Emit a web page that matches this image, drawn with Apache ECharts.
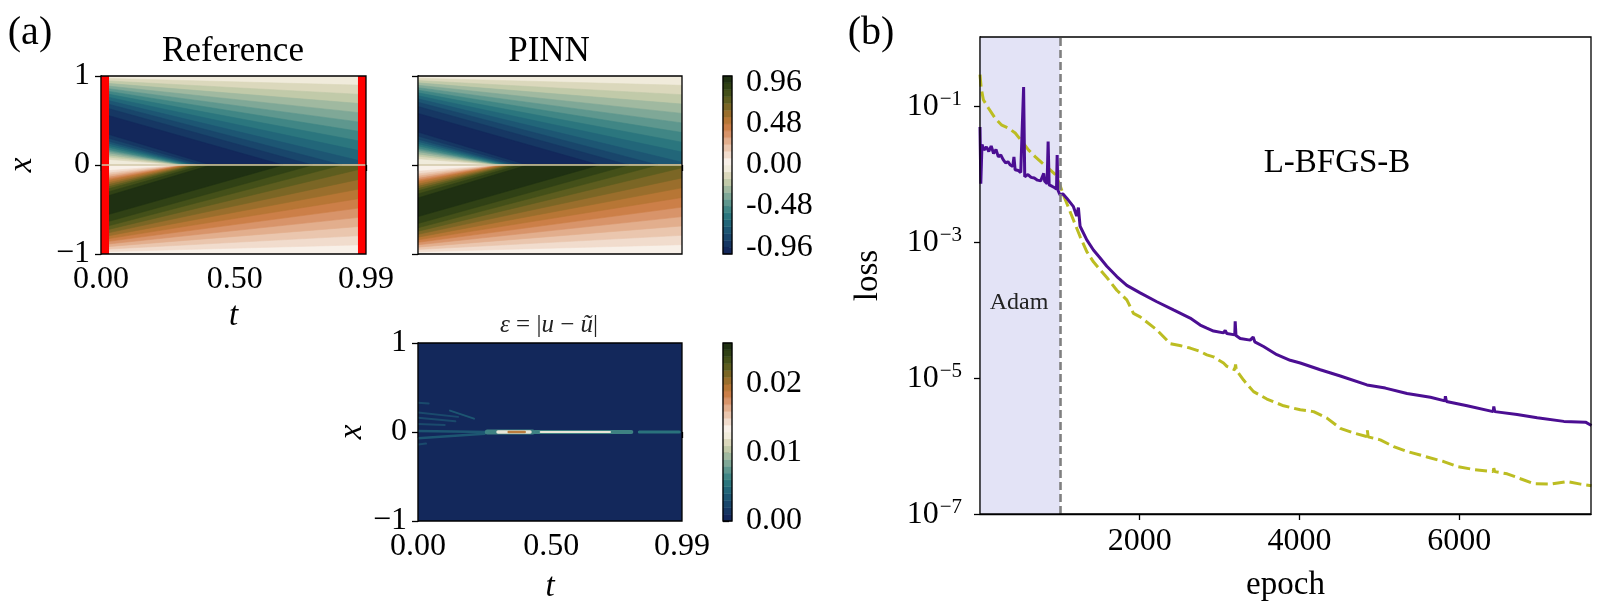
<!DOCTYPE html>
<html><head><meta charset="utf-8">
<script src="https://cdn.jsdelivr.net/npm/echarts@6/dist/echarts.min.js"></script>
<style>html,body{margin:0;padding:0;background:#fff}#c{width:1600px;height:612px}</style>
</head><body><div id="c"></div>
<script>
// ---------------- panel (a): contour-band boundaries ----------------
// upper half (u < 0); the lower half is the mirror image (u > 0)
const levels      = [0.08, 0.16, 0.24, 0.32, 0.40, 0.48, 0.56, 0.64, 0.72, 0.80, 0.88, 0.96];
const innerStartX = [0.07, 0.10, 0.125, 0.15, 0.17, 0.19, 0.215, 0.24, 0.265, 0.29, 0.325, 0.37];
const innerEndT   = [0.30, 0.30, 0.31, 0.31, 0.32, 0.32, 0.33, 0.34, 0.35, 0.36, 0.38, 0.41];
const outerStartX = [0.975, 0.949, 0.923, 0.896, 0.869, 0.841, 0.811, 0.779, 0.744, 0.705, 0.657, 0.58];
const outerEndT   = [0.99, 0.99, 0.99, 0.99, 0.99, 0.99, 0.99, 0.99, 0.99, 0.90, 0.79, 0.68];
const outerEndX   = [0.895, 0.79, 0.685, 0.58, 0.473, 0.365, 0.256, 0.145, 0.031, 0, 0, 0];
const bandEdges   = [-1.04,-0.96,-0.88,-0.80,-0.72,-0.64,-0.56,-0.48,-0.40,-0.32,-0.24,-0.16,-0.08,0,
                     0.08,0.16,0.24,0.32,0.40,0.48,0.56,0.64,0.72,0.80,0.88,0.96,1.04];
const bandColors  = ['#13285b','#163763','#19466b','#1d5673','#226679','#2b767e','#408685','#5e978e',
                     '#7fa897','#a0b9a0','#c1caa9','#dbd8bc','#f0ebdb','#f8f0e8','#f1dccd','#eac6ae',
                     '#e2ae8d','#d8946a','#cc7f48','#b77635','#9a6e2c','#7b6625','#5d5d1f','#445019',
                     '#304115','#1f3012'];
const trainSlices = [[0, 0.03], [0.96, 0.99]];
const tTicks  = [0, 0.5, 0.99];
const xTicks  = [-1, 0, 1];
const cbTicks = [-0.96, -0.48, 0, 0.48, 0.96];
// error field: edges of the colour bands and streaks [t0, x0, t1, x1, value]
const errEdges = [0,0.001,0.002,0.003,0.004,0.005,0.006,0.007,0.008,0.009,0.010,0.011,0.012,0.013,
                  0.014,0.015,0.016,0.017,0.018,0.019,0.020,0.021,0.022,0.023,0.024,0.025,0.026];
const errTicks = [0, 0.01, 0.02];
const errStreaks = [
  [0.00, 0.33, 0.04, 0.32, 0.003],
  [0.00, 0.22, 0.15, 0.17, 0.003],
  [0.12, 0.24, 0.21, 0.15, 0.004],
  [0.00, 0.16, 0.14, 0.12, 0.003],
  [0.00, 0.09, 0.10, 0.08, 0.003],
  [0.00, 0.01, 0.26, 0.00, 0.004],
  [0.00, -0.07, 0.25, -0.02, 0.004],
  [0.00, -0.14, 0.03, -0.13, 0.003],
  [0.26, 0.00, 0.43, 0.00, 0.006],
  [0.30, 0.00, 0.42, 0.00, 0.012],
  [0.34, 0.00, 0.40, 0.00, 0.019],
  [0.44, 0.00, 0.80, 0.00, 0.006],
  [0.46, 0.00, 0.72, 0.00, 0.012],
  [0.83, 0.00, 0.98, 0.00, 0.005]
];
// ---------------- panel (b): loss curves ----------------
const epochsSolid = [0,10,25,50,80,110,140,170,200,230,260,290,320,350,380,410,425,440,480,510,
  530,546,560,600,640,680,720,760,798,810,840,853,866,900,930,958,966,975,1002,1037,
  1086,1170,1210,1232,1253,1337,1420,1504,1588,1713,1838,2005,2214,2422,2631,2757,2840,2924,3049,3070,
  3090,3190,3195,3205,3258,3383,3420,3440,3550,3717,3884,4010,4260,4511,4845,5075,5347,5639,5820,5827,
  5840,6099,6425,6433,6445,6725,6976,7310,7581,7656];
const lossSolid = [4.9e-2,7.2e-3,2.7e-2,2.24e-2,2.5e-2,2.14e-2,2.57e-2,2.0e-2,2.29e-2,1.78e-2,
  1.9e-2,1.62e-2,1.45e-2,1.51e-2,1.35e-2,1.29e-2,1.78e-2,1.15e-2,1.12e-2,1.05e-2,
  1.02e-2,1.9e-1,9.1e-3,9.8e-3,8.9e-3,8.7e-3,8.1e-3,7.9e-3,1.02e-2,7.8e-3,
  7.2e-3,3.0e-2,6.9e-3,6.6e-3,6.3e-3,6.0e-3,1.9e-2,5.8e-3,4.9e-3,5.1e-3,
  4.4e-3,3.3e-3,2.4e-3,3.2e-3,1.7e-3,1.07e-3,7.6e-4,5.8e-4,4.4e-4,3.1e-4,
  2.3e-4,1.78e-4,1.32e-4,1.0e-4,7.6e-5,6.0e-5,5.4e-5,4.9e-5,4.6e-5,5.0e-5,
  4.5e-5,4.3e-5,6.8e-5,4.2e-5,3.8e-5,3.6e-5,4.0e-5,3.4e-5,2.9e-5,2.2e-5,
  1.82e-5,1.66e-5,1.32e-5,1.07e-5,7.9e-6,7.1e-6,5.9e-6,5.2e-6,4.6e-6,5.4e-6,
  4.5e-6,3.9e-6,3.2e-6,3.8e-6,3.2e-6,2.9e-6,2.6e-6,2.3e-6,2.24e-6,2.0e-6];
const epochsDashed = [0,15,42,105,189,273,357,441,525,609,693,777,861,945,1008,1050,1086,1170,1253,1337,
  1420,1504,1588,1713,1838,1921,2005,2214,2381,2500,2631,2757,2840,2924,3049,3091,3190,3200,3210,3300,
  3425,3592,3801,4010,4177,4344,4511,4678,4840,4850,4860,5012,5180,5347,5597,5806,5973,6182,6425,6433,
  6445,6600,6767,6934,7143,7352,7519,7656];
const lossDashed = [2.88e-1,1.82e-1,1.23e-1,9.3e-2,6.6e-2,5.2e-2,4.7e-2,4.0e-2,3.0e-2,2.24e-2,
  1.78e-2,1.45e-2,1.2e-2,9.8e-3,6.5e-3,4.7e-3,3.7e-3,2.1e-3,1.2e-3,7.2e-4,
  5.1e-4,3.9e-4,3.0e-4,1.95e-4,1.41e-4,8.9e-5,7.9e-5,5.1e-5,3.2e-5,3.0e-5,
  2.75e-5,2.45e-5,2.19e-5,2.04e-5,1.66e-5,1.48e-5,1.32e-5,1.58e-5,1.3e-5,9.3e-6,
  6.3e-6,4.9e-6,3.9e-6,3.4e-6,3.2e-6,2.57e-6,1.82e-6,1.55e-6,1.38e-6,1.7e-6,
  1.36e-6,1.23e-6,9.8e-7,8.3e-7,6.9e-7,5.9e-7,5.0e-7,4.5e-7,4.2e-7,4.7e-7,
  4.2e-7,3.9e-7,3.3e-7,2.8e-7,2.75e-7,3.0e-7,2.75e-7,2.6e-7];
const adamEnd = 1000;
const lossTicks = [1e-7, 1e-5, 1e-3, 1e-1];
const epochTicks = [2000, 4000, 6000];

// ---------------- rendering ----------------
const F = '"Liberation Serif", "DejaVu Serif", serif';
const FS = 32;
const chart = echarts.init(document.getElementById('c'), null, {renderer: 'canvas'});
const black = {color: '#000', width: 1.3};
const minus = v => (v < 0 ? '\u2212' + Math.abs(v) : String(v));
// stroke widths of the error streaks (style only, in the same order as errStreaks)
const streakWidths = [2, 2, 2, 2, 2, 2.5, 2.5, 2, 5, 3.5, 2.5, 4, 2, 3];

function fieldItem(params, api) {
  const i = api.value(0), s = api.value(1);
  let pts, color;
  if (i < 0) {
    pts = [[0, 0], [0.99, 0], [0.99, s], [0, s]];
    color = bandColors[s > 0 ? 12 : 13];
  } else {
    pts = [[0, s * innerStartX[i]], [0, s * outerStartX[i]], [outerEndT[i], s * outerEndX[i]]];
    if (outerEndX[i] > 0) pts.push([0.99, 0]);
    pts.push([innerEndT[i], 0]);
    color = bandColors[s > 0 ? 11 - i : 14 + i];
  }
  return {type: 'polygon', shape: {points: pts.map(p => api.coord(p))},
          style: {fill: color, stroke: color, lineWidth: 0.6}};
}
const fieldData = [[-1, 1], [-1, -1]];
levels.forEach((L, i) => { fieldData.push([i, 1]); });
levels.forEach((L, i) => { fieldData.push([i, -1]); });

function bandRenderer(edges, colors) {
  return function (params, api) {
    const k = params.dataIndex;
    const p0 = api.coord([0, edges[k]]), p1 = api.coord([1, edges[k + 1]]);
    return {type: 'rect', shape: {x: p0[0], y: p1[1], width: p1[0] - p0[0], height: p0[1] - p1[1]},
            style: {fill: colors[k], stroke: colors[k], lineWidth: 0.5}};
  };
}
function errBand(v) {
  for (let k = 0; k < errEdges.length - 1; k++) if (v >= errEdges[k] && v < errEdges[k + 1]) return k;
  return errEdges.length - 2;
}
function errItem(params, api) {
  const k = params.dataIndex;
  if (k === 0) {
    const a = api.coord([0, 1]), b = api.coord([0.99, -1]);
    return {type: 'rect', shape: {x: a[0], y: a[1], width: b[0] - a[0], height: b[1] - a[1]},
            style: {fill: bandColors[0]}};
  }
  const st = errStreaks[k - 1];
  const p0 = api.coord([st[0], st[1]]), p1 = api.coord([st[2], st[3]]);
  return {type: 'line', shape: {x1: p0[0], y1: p0[1], x2: p1[0], y2: p1[1]},
          style: {stroke: bandColors[errBand(st[4])], lineWidth: streakWidths[k - 1], lineCap: 'round',
                  opacity: st[4] < 0.005 ? 0.75 : 0.95}};
}
const errData = [[0]].concat(errStreaks.map((s, i) => [i + 1]));

function tAxis(gi, showLabels, name, gap) {
  return {type: 'value', gridIndex: gi, min: 0, max: 0.99, splitLine: {show: false},
    axisLine: {lineStyle: black},
    axisTick: {customValues: tTicks, length: 6, lineStyle: black},
    axisLabel: {show: showLabels, customValues: tTicks, formatter: v => v.toFixed(2),
                fontSize: FS, fontFamily: F, color: '#000', margin: 10},
    name: name, nameLocation: 'middle', nameGap: gap,
    nameTextStyle: {fontSize: 33, fontStyle: 'italic', fontFamily: F, color: '#000'}};
}
function xAxisY(gi, showLabels, name, gap) {
  return {type: 'value', gridIndex: gi, min: -1, max: 1, splitLine: {show: false},
    axisLine: {lineStyle: black},
    axisTick: {customValues: xTicks, length: 6, lineStyle: black},
    axisLabel: {show: showLabels, customValues: xTicks, formatter: minus,
                fontSize: FS, fontFamily: F, color: '#000', margin: 11},
    name: name, nameLocation: 'middle', nameGap: gap,
    nameTextStyle: {fontSize: 33, fontStyle: 'italic', fontFamily: F, color: '#000'}};
}
function cbAxis(gi, min, max, ticks) {
  return {type: 'value', gridIndex: gi, position: 'right', min: min, max: max, splitLine: {show: false},
    axisLine: {show: false},
    axisTick: {customValues: ticks, length: 6, lineStyle: black},
    axisLabel: {customValues: ticks, formatter: v => v.toFixed(2), fontSize: FS, fontFamily: F,
                color: '#000', margin: 14}};
}
const hiddenX = gi => ({type: 'value', gridIndex: gi, min: 0, max: 1, show: false});
const frame = {show: true, borderColor: '#000', borderWidth: 1.3, backgroundColor: 'transparent', z: 10};

const option = {
  animation: false,
  backgroundColor: '#fff',
  grid: [
    Object.assign({left: 101, top: 76, width: 265, height: 178}, frame),
    Object.assign({left: 418, top: 76, width: 264, height: 178}, frame),
    Object.assign({left: 723, top: 76, width: 9, height: 178}, frame),
    Object.assign({left: 418, top: 343, width: 264, height: 178}, frame),
    Object.assign({left: 723, top: 343, width: 9, height: 178}, frame),
    Object.assign({left: 980, top: 37, width: 611, height: 477}, frame)
  ],
  xAxis: [
    tAxis(0, true, 't', 46),
    tAxis(1, false, '', 0),
    hiddenX(2),
    tAxis(3, true, 't', 50),
    hiddenX(4),
    {type: 'value', gridIndex: 5, min: 0, max: 7650, splitLine: {show: false},
     axisLine: {lineStyle: black},
     axisTick: {customValues: epochTicks, length: 6, lineStyle: black},
     axisLabel: {customValues: epochTicks, formatter: v => String(v), fontSize: FS, fontFamily: F, color: '#000', margin: 12},
     name: 'epoch', nameLocation: 'middle', nameGap: 55,
     nameTextStyle: {fontSize: 33, fontFamily: F, color: '#000'}}
  ],
  yAxis: [
    xAxisY(0, true, 'x', 62),
    xAxisY(1, false, '', 0),
    cbAxis(2, -1.04, 1.04, cbTicks),
    xAxisY(3, true, 'x', 48),
    cbAxis(4, 0, 0.026, errTicks),
    {type: 'log', logBase: 10, gridIndex: 5, min: 1e-7, max: 1.03, splitLine: {show: false},
     minorTick: {show: false},
     axisLine: {lineStyle: black},
     axisTick: {customValues: lossTicks, length: 6, lineStyle: black},
     axisLabel: {customValues: lossTicks, margin: 18, color: '#000',
       formatter: v => { const e = Math.round(Math.log10(v)); return '{b|10}{s|' + (e < 0 ? '\u2212' : '') + Math.abs(e) + '}'; },
       rich: {b: {fontSize: FS, fontFamily: F, color: '#000', lineHeight: 34, verticalAlign: 'bottom'},
              s: {fontSize: 21, fontFamily: F, color: '#000', lineHeight: 20, verticalAlign: 'top', padding: [0, 0, 0, 1]}}},
     name: 'loss', nameLocation: 'middle', nameGap: 95,
     nameTextStyle: {fontSize: 33, fontFamily: F, color: '#000'}}
  ],
  series: [
    {type: 'custom', xAxisIndex: 0, yAxisIndex: 0, clip: true, renderItem: fieldItem, data: fieldData, silent: true},
    {type: 'line', xAxisIndex: 0, yAxisIndex: 0, data: [[0, 0], [0.99, 0]], showSymbol: false, silent: true,
     lineStyle: {color: '#d2c8a8', width: 1.5}},
    {type: 'custom', xAxisIndex: 0, yAxisIndex: 0, clip: true, silent: true, data: trainSlices,
     renderItem: (p, api) => { const a = api.coord([api.value(0), 1]), b = api.coord([api.value(1), -1]);
       return {type: 'rect', shape: {x: a[0], y: a[1], width: b[0] - a[0], height: b[1] - a[1]}, style: {fill: '#ff0000'}}; }},
    {type: 'custom', xAxisIndex: 1, yAxisIndex: 1, clip: true, renderItem: fieldItem, data: fieldData, silent: true},
    {type: 'line', xAxisIndex: 1, yAxisIndex: 1, data: [[0, 0], [0.99, 0]], showSymbol: false, silent: true,
     lineStyle: {color: '#d2c8a8', width: 1.5}},
    {type: 'custom', xAxisIndex: 2, yAxisIndex: 2, renderItem: bandRenderer(bandEdges, bandColors),
     data: bandColors.map((c, k) => [k]), silent: true},
    {type: 'custom', xAxisIndex: 3, yAxisIndex: 3, clip: true, renderItem: errItem, data: errData, silent: true},
    {type: 'custom', xAxisIndex: 4, yAxisIndex: 4, renderItem: bandRenderer(errEdges, bandColors),
     data: bandColors.map((c, k) => [k]), silent: true},
    {type: 'line', xAxisIndex: 5, yAxisIndex: 5, data: [[0, 1e-7]], showSymbol: false, silent: true, z: 1,
     lineStyle: {width: 0},
     markArea: {silent: true, itemStyle: {color: '#e3e3f6'}, data: [[{xAxis: 0}, {xAxis: adamEnd}]]},
     markLine: {silent: true, symbol: 'none', label: {show: false},
                lineStyle: {color: '#808080', type: [8, 4], width: 2.6, opacity: 1}, data: [{xAxis: adamEnd}]}},
    {name: 'dashed', type: 'line', xAxisIndex: 5, yAxisIndex: 5, z: 3, showSymbol: false, silent: true,
     data: epochsDashed.map((e, i) => [e, lossDashed[i]]),
     lineStyle: {color: '#bcbd22', width: 3, type: [12, 5]}},
    {name: 'solid', type: 'line', xAxisIndex: 5, yAxisIndex: 5, z: 4, showSymbol: false, silent: true,
     data: epochsSolid.map((e, i) => [e, lossSolid[i]]),
     lineStyle: {color: '#4b0e92', width: 3}}
  ],
  graphic: [
    {type: 'text', x: 30, y: 33, style: {text: '(a)', fontSize: 40, fontFamily: F, fill: '#000', align: 'center', verticalAlign: 'middle'}},
    {type: 'text', x: 871, y: 33, style: {text: '(b)', fontSize: 40, fontFamily: F, fill: '#000', align: 'center', verticalAlign: 'middle'}},
    {type: 'text', x: 233, y: 52, style: {text: 'Reference', fontSize: 35, fontFamily: F, fill: '#000', align: 'center', verticalAlign: 'middle'}},
    {type: 'text', x: 549, y: 52, style: {text: 'PINN', fontSize: 35, fontFamily: F, fill: '#000', align: 'center', verticalAlign: 'middle'}},
    {type: 'text', x: 549, y: 325, style: {text: '{i|\u03b5} = |{i|u} \u2212 {i|\u0169}|', fontSize: 25, fontFamily: F, fill: '#222', align: 'center', verticalAlign: 'middle',
      rich: {i: {fontSize: 25, fontFamily: F, fontStyle: 'italic', fill: '#222'}}}},
    {type: 'text', x: 1337, y: 163, style: {text: 'L-BFGS-B', fontSize: 33, fontFamily: F, fill: '#000', align: 'center', verticalAlign: 'middle'}},
    {type: 'text', x: 1019, y: 303, z: 20, style: {text: 'Adam', fontSize: 24, fontFamily: F, fill: '#222', align: 'center', verticalAlign: 'middle'}}
  ]
};
chart.setOption(option);
</script></body></html>
